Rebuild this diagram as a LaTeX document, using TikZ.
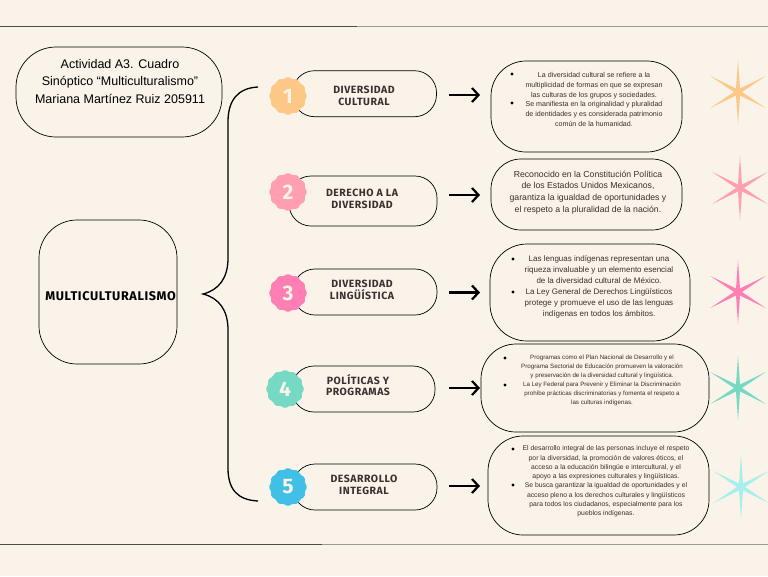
\documentclass[tikz,border=0pt]{standalone}
\usepackage{fontspec}
\setmainfont{Liberation Sans}
\newfontfamily\headfont[LetterSpace=5]{Fira Sans}
\usetikzlibrary{arrows.meta,shapes.geometric}
\definecolor{paper}{HTML}{F9F3E9}
\definecolor{inkbrown}{HTML}{3B2F2F}
\definecolor{tone1}{HTML}{FDC886}
\definecolor{tone2}{HTML}{FF9FB0}
\definecolor{tone3}{HTML}{FF7FB5}
\definecolor{tone4}{HTML}{75D9C3}
\definecolor{tone5}{HTML}{40C0E7}
\definecolor{tone6}{HTML}{A5F0EC}
\tikzset{
  roundbox/.style={draw=black,line width=0.7pt,rounded corners=#1,inner sep=0pt},
  pillbox/.style={roundbox=22pt,minimum width=144pt,minimum height=46pt},
  pilltext/.style={align=center,text=inkbrown,inner sep=0pt,font=\headfont\bfseries\fontsize{10.5}{11.8}\selectfont},
  badge/.style={star,star points=12,star point ratio=1.13,rounded corners=1.5pt,minimum size=39pt,inner sep=0pt,text=paper,font=\headfont\bfseries\fontsize{21}{21}\selectfont},
  sparkle/.style={star,star points=6,star point ratio=8,minimum size=64pt,inner sep=0pt},
  dot/.style={circle,fill=black,minimum size=3.4pt,inner sep=0pt},
  infotext/.style={align=center,inner sep=0pt,text=inkbrown},
  goarrow/.style={-{Straight Barb[length=6.5pt,width=14pt]},line width=2.2pt},
}
\begin{document}
\begin{tikzpicture}[x=1pt,y=-1pt]
  \useasboundingbox[fill=paper] (0,0) rectangle (768,576);
  % rules
  \draw[line width=0.8pt,black!70] (0,26.5) -- (357,26.5);
  \draw[line width=1.3pt,black!40] (357,26.5) -- (768,26.5);
  \draw[line width=0.8pt,black!70] (0,544.5) -- (322,544.5);
  \draw[line width=1.3pt,black!40] (322,544.5) -- (768,544.5);
  % left column
  \node[roundbox=40pt,minimum width=206pt,minimum height=90pt] (cover) at (119,92) {};
  \node[align=center,inner sep=0pt,font=\fontsize{12.5}{17.5}\selectfont] (covertext) at (120,81.5)
    {Actividad A3. Cuadro\\Sinóptico “Multiculturalismo”\\Mariana Martínez Ruiz 205911};
  \node[roundbox=38pt,minimum width=138pt,minimum height=144pt] (main) at (108,292) {};
  \node[inner sep=0pt,font=\headfont\bfseries\fontsize{12.6}{14}\selectfont] (maintext) at (110.5,296) {MULTICULTURALISMO};
  % brace
  \coordinate (bracetop) at (258,87);
  \coordinate (bracetip) at (203,294);
  \coordinate (bracebot) at (258,501);
  \draw[line width=1.3pt] (bracetop) .. controls (238,88) and (228,100) .. (228,122)
    -- (228,258) .. controls (228,278) and (219,290) .. (bracetip)
    .. controls (219,298) and (228,310) .. (228,330)
    -- (228,468) .. controls (228,490) and (238,500) .. (bracebot);
  % pills
  \node[pillbox] (pill1) at (364.5,93.7) {};
  \node[pillbox,minimum width=148pt,minimum height=50pt] (pill2) at (363,201) {};
  \node[pillbox] (pill3) at (365,292) {};
  \node[pillbox,minimum width=143pt] (pill4) at (363.5,389) {};
  \node[pillbox] (pill5) at (365,487) {};
  \node[pilltext] (pilltext1) at (364,96) {DIVERSIDAD\\CULTURAL};
  \node[pilltext] (pilltext2) at (362,199) {DERECHO A LA\\DIVERSIDAD};
  \node[pilltext] (pilltext3) at (362,290) {DIVERSIDAD\\LINGÜÍSTICA};
  \node[pilltext] (pilltext4) at (358,385) {POLÍTICAS Y\\PROGRAMAS};
  \node[pilltext] (pilltext5) at (364,485) {DESARROLLO\\INTEGRAL};
  % badges
  \node[badge,fill=tone1] (badge1) at (288,96) {1};
  \node[badge,fill=tone2] (badge2) at (288,192) {2};
  \node[badge,fill=tone3] (badge3) at (288,293) {3};
  \node[badge,fill=tone4] (badge4) at (285,389) {4};
  \node[badge,fill=tone5] (badge5) at (288,487) {5};
  % arrows
  \coordinate (arrow1a) at (449,95);
  \coordinate (arrow1b) at (480,95);
  \coordinate (arrow2a) at (449,195);
  \coordinate (arrow2b) at (480,195);
  \coordinate (arrow3a) at (449,292.5);
  \coordinate (arrow3b) at (480,292.5);
  \coordinate (arrow4a) at (449,388);
  \coordinate (arrow4b) at (480,388);
  \coordinate (arrow5a) at (449,486);
  \coordinate (arrow5b) at (480,486);
  \draw[goarrow] (arrow1a) -- (arrow1b);
  \draw[goarrow] (arrow2a) -- (arrow2b);
  \draw[goarrow] (arrow3a) -- (arrow3b);
  \draw[goarrow] (arrow4a) -- (arrow4b);
  \draw[goarrow] (arrow5a) -- (arrow5b);
  % detail boxes
  \node[roundbox=35pt,minimum width=191pt,minimum height=91pt] (info1) at (586.5,106.5) {};
  \node[roundbox=30pt,minimum width=191pt,minimum height=71pt] (info2) at (586.5,194.5) {};
  \node[roundbox=37pt,minimum width=200pt,minimum height=97pt] (info3) at (590,292.5) {};
  \node[roundbox=35pt,minimum width=228pt,minimum height=88pt] (info4) at (595,388) {};
  \node[roundbox=35pt,minimum width=221pt,minimum height=99pt] (info5) at (598.5,485.5) {};
  \node[infotext,font=\fontsize{7.1}{9.8}\selectfont] (infotext1) at (594,99.5)
    {La diversidad cultural se refiere a la\\multiplicidad de formas en que se expresan\\las culturas de los grupos y sociedades.\\Se manifiesta en la originalidad y pluralidad\\de identidades y es considerada patrimonio\\común de la humanidad.};
  \node[infotext,font=\fontsize{8.7}{11.7}\selectfont] (infotext2) at (588,192.5)
    {Reconocido en la Constitución Política\\de los Estados Unidos Mexicanos,\\garantiza la igualdad de oportunidades y\\el respeto a la pluralidad de la nación.};
  \node[infotext,font=\fontsize{8}{11}\selectfont] (infotext3) at (599,286.5)
    {Las lenguas indígenas representan una\\riqueza invaluable y un elemento esencial\\de la diversidad cultural de México.\\La Ley General de Derechos Lingüísticos\\protege y promueve el uso de las lenguas\\indígenas en todos los ámbitos.};
  \node[infotext,font=\fontsize{6.2}{9}\selectfont] (infotext4) at (602,380.5)
    {Programas como el Plan Nacional de Desarrollo y el\\Programa Sectorial de Educación promueven la valoración\\y preservación de la diversidad cultural y lingüística.\\La Ley Federal para Prevenir y Eliminar la Discriminación\\prohíbe prácticas discriminatorias y fomenta el respeto a\\las culturas indígenas.};
  \node[infotext,font=\fontsize{6.8}{9.3}\selectfont] (infotext5) at (606,481.5)
    {El desarrollo integral de las personas incluye el respeto\\por la diversidad, la promoción de valores éticos, el\\acceso a la educación bilingüe e intercultural, y el\\apoyo a las expresiones culturales y lingüísticas.\\Se busca garantizar la igualdad de oportunidades y el\\acceso pleno a los derechos culturales y lingüísticos\\para todos los ciudadanos, especialmente para los\\pueblos indígenas.};
  % bullets
  \node[dot] (dot1a) at (512,74) {};
  \node[dot] (dot1b) at (512,103) {};
  \node[dot] (dot3a) at (513,259) {};
  \node[dot] (dot3b) at (513,292) {};
  \node[dot] (dot4a) at (505,358) {};
  \node[dot] (dot4b) at (505,385) {};
  \node[dot] (dot5a) at (513,449) {};
  \node[dot] (dot5b) at (513,485) {};
  % sparkles
  \node[sparkle,fill=tone1] (spark1) at (738,92) {};
  \node[sparkle,fill=tone2] (spark2) at (740,188) {};
  \node[sparkle,fill=tone3] (spark3) at (738,292) {};
  \node[sparkle,fill=tone4] (spark4) at (738,388) {};
  \node[sparkle,fill=tone6] (spark5) at (741,487) {};
\end{tikzpicture}
\end{document}
